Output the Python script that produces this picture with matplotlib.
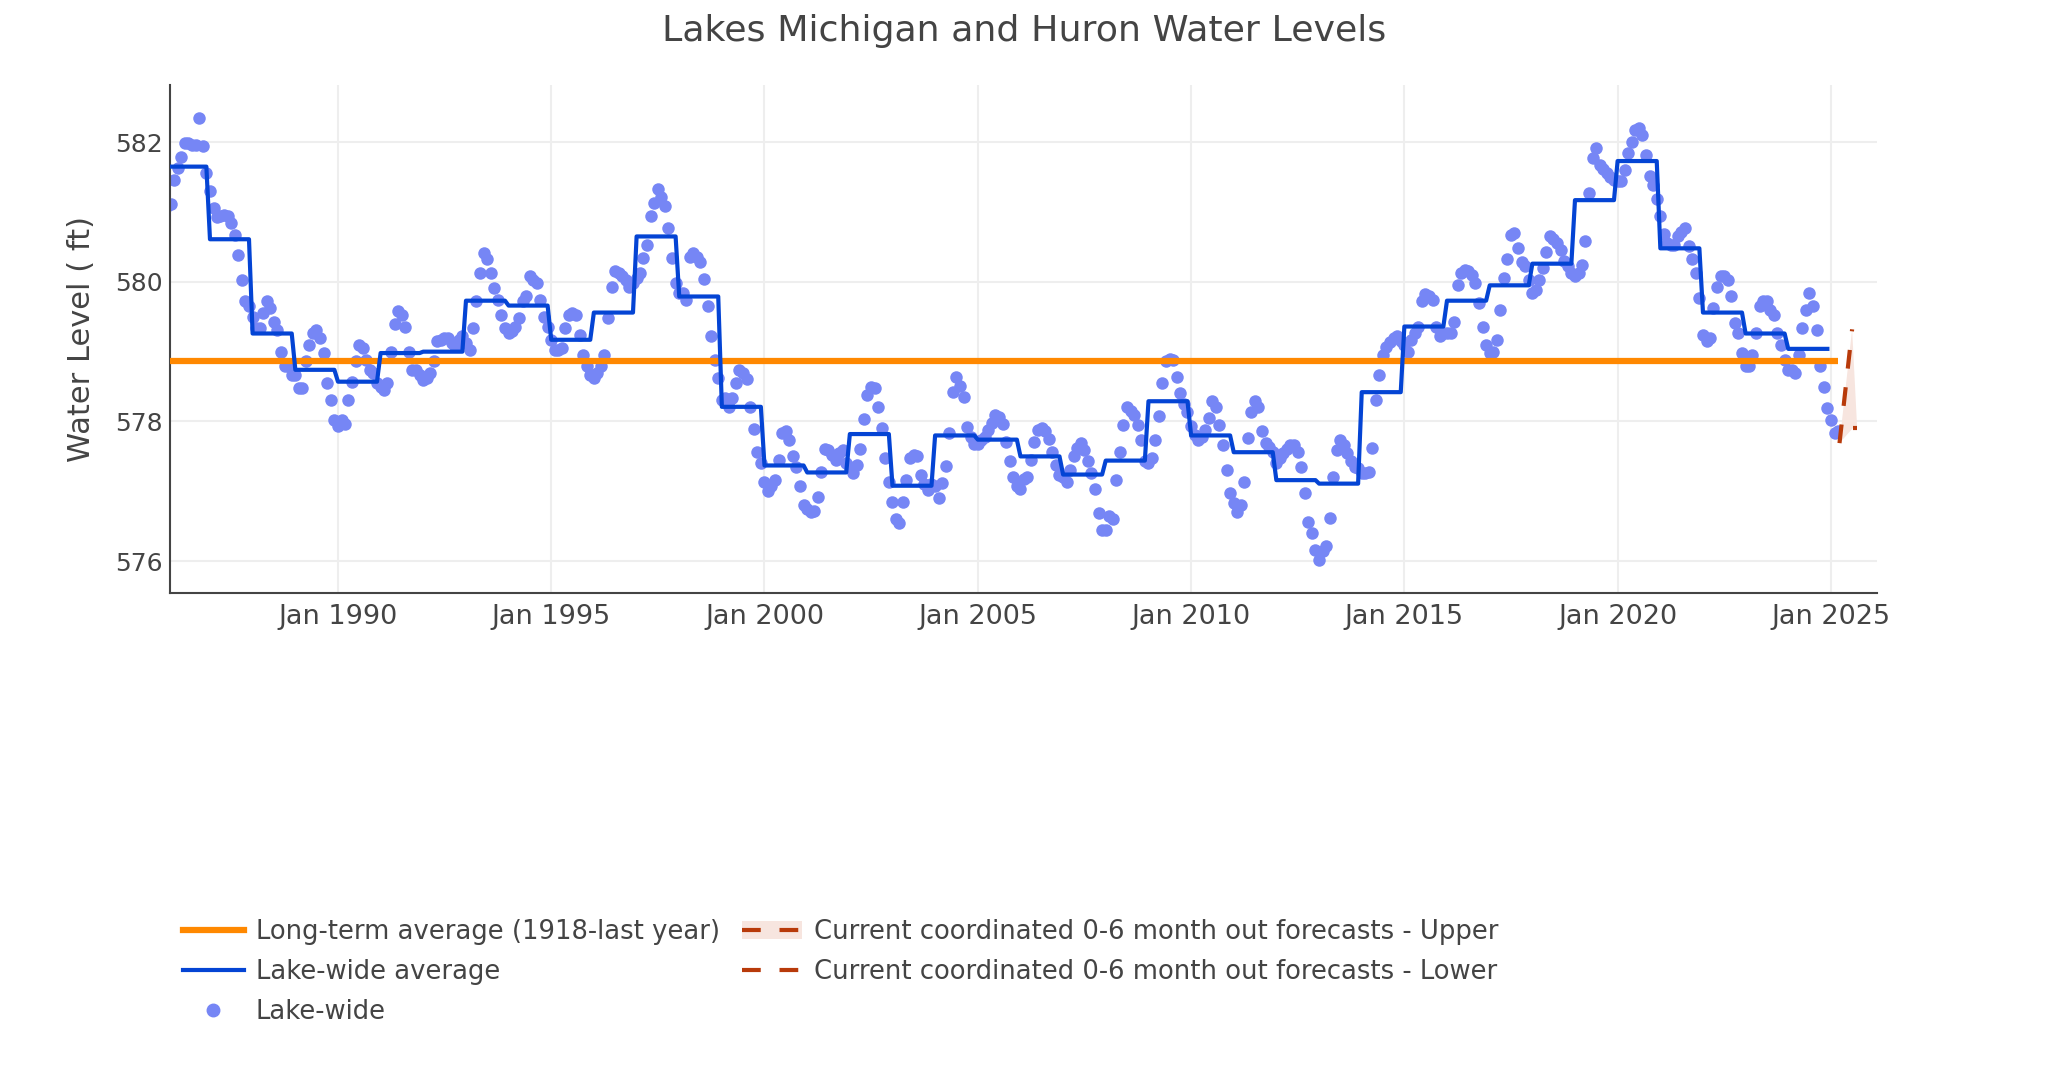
import pandas as pd
import matplotlib
matplotlib.use("Agg")
import matplotlib.pyplot as plt
import matplotlib.dates as mdates
from matplotlib.lines import Line2D
from matplotlib.patches import Patch

# Monthly lake-wide levels (ft), one row per year, starting Jan 1986
levels_1980s = [
    581.08, 581.12, 581.46, 581.63, 581.79, 581.99, 581.99, 581.96, 581.96, 582.35, 581.95, 581.56,  # 1986
    581.30, 581.06, 580.93, 580.94, 580.96, 580.94, 580.84, 580.67, 580.38, 580.02, 579.72, 579.65,  # 1987
    579.50, 579.34, 579.34, 579.55, 579.72, 579.62, 579.42, 579.31, 579.00, 578.80, 578.80, 578.67,  # 1988
    578.67, 578.48, 578.48, 578.86, 579.10, 579.27, 579.31, 579.19, 578.98, 578.55, 578.31, 578.02,  # 1989
]
levels_1990s = [
    577.93, 578.02, 577.97, 578.31, 578.57, 578.86, 579.10, 579.05, 578.88, 578.74, 578.69, 578.55,  # 1990
    578.50, 578.45, 578.55, 579.00, 579.40, 579.58, 579.53, 579.36, 579.00, 578.74, 578.74, 578.66,  # 1991
    578.60, 578.62, 578.70, 578.86, 579.15, 579.17, 579.19, 579.19, 579.12, 579.08, 579.17, 579.22,  # 1992
    579.12, 579.02, 579.34, 579.72, 580.12, 580.41, 580.32, 580.12, 579.91, 579.74, 579.53, 579.34,  # 1993
    579.27, 579.30, 579.36, 579.48, 579.72, 579.79, 580.08, 580.03, 579.98, 579.74, 579.50, 579.36,  # 1994
    579.17, 579.02, 579.02, 579.05, 579.34, 579.53, 579.55, 579.53, 579.24, 578.95, 578.79, 578.67,  # 1995
    578.62, 578.69, 578.79, 578.95, 579.48, 579.92, 580.15, 580.13, 580.08, 580.03, 579.93, 579.98,  # 1996
    580.05, 580.13, 580.34, 580.53, 580.94, 581.13, 581.33, 581.22, 581.09, 580.77, 580.34, 579.98,  # 1997
    579.84, 579.84, 579.74, 580.36, 580.41, 580.36, 580.29, 580.04, 579.65, 579.23, 578.88, 578.62,  # 1998
    578.31, 578.33, 578.21, 578.33, 578.55, 578.74, 578.70, 578.61, 578.21, 577.89, 577.57, 577.40,  # 1999
]
levels_2000s = [
    577.14, 577.00, 577.07, 577.16, 577.45, 577.83, 577.86, 577.74, 577.50, 577.35, 577.08, 576.80,  # 2000
    576.75, 576.70, 576.72, 576.92, 577.28, 577.61, 577.59, 577.52, 577.45, 577.55, 577.59, 577.40,  # 2001
    577.35, 577.26, 577.37, 577.61, 578.04, 578.38, 578.50, 578.48, 578.21, 577.90, 577.47, 577.14,  # 2002
    576.84, 576.61, 576.55, 576.84, 577.16, 577.47, 577.52, 577.50, 577.23, 577.10, 577.02, 577.10,  # 2003
    577.07, 576.90, 577.12, 577.36, 577.83, 578.42, 578.64, 578.51, 578.35, 577.92, 577.78, 577.68,  # 2004
    577.68, 577.74, 577.78, 577.88, 577.98, 578.09, 578.07, 577.97, 577.71, 577.43, 577.21, 577.07,  # 2005
    577.03, 577.18, 577.21, 577.45, 577.71, 577.88, 577.90, 577.86, 577.75, 577.57, 577.38, 577.24,  # 2006
    577.21, 577.14, 577.30, 577.50, 577.62, 577.69, 577.59, 577.43, 577.26, 577.03, 576.69, 576.45,  # 2007
    576.45, 576.65, 576.60, 577.16, 577.57, 577.95, 578.21, 578.15, 578.09, 577.95, 577.74, 577.43,  # 2008
    577.40, 577.47, 577.74, 578.08, 578.55, 578.86, 578.90, 578.88, 578.64, 578.41, 578.25, 578.14,  # 2009
]
levels_2010s = [
    577.93, 577.80, 577.74, 577.78, 577.88, 578.05, 578.29, 578.21, 577.95, 577.67, 577.31, 576.98,  # 2010
    576.83, 576.71, 576.81, 577.14, 577.76, 578.14, 578.29, 578.21, 577.86, 577.69, 577.64, 577.57,  # 2011
    577.40, 577.47, 577.55, 577.60, 577.66, 577.66, 577.57, 577.35, 576.97, 576.56, 576.40, 576.16,  # 2012
    576.02, 576.14, 576.21, 576.62, 577.21, 577.59, 577.74, 577.67, 577.55, 577.43, 577.35, 577.33,  # 2013
    577.26, 577.26, 577.28, 577.62, 578.31, 578.67, 578.95, 579.07, 579.14, 579.19, 579.22, 579.15,  # 2014
    579.10, 578.99, 579.17, 579.27, 579.36, 579.72, 579.82, 579.80, 579.74, 579.36, 579.22, 579.27,  # 2015
    579.27, 579.27, 579.43, 579.96, 580.13, 580.17, 580.15, 580.10, 579.98, 579.70, 579.36, 579.10,  # 2016
    578.98, 579.00, 579.17, 579.60, 580.05, 580.32, 580.67, 580.70, 580.48, 580.29, 580.22, 580.03,  # 2017
    579.84, 579.89, 580.03, 580.20, 580.43, 580.65, 580.62, 580.56, 580.45, 580.30, 580.22, 580.13,  # 2018
    580.08, 580.13, 580.24, 580.58, 581.27, 581.77, 581.92, 581.68, 581.62, 581.56, 581.50, 581.46,  # 2019
]
levels_2020s = [
    581.44, 581.44, 581.60, 581.85, 582.00, 582.18, 582.20, 582.10, 581.82, 581.51, 581.39, 581.18,  # 2020
    580.94, 580.68, 580.56, 580.53, 580.53, 580.65, 580.72, 580.77, 580.51, 580.32, 580.13, 579.77,  # 2021
    579.24, 579.15, 579.20, 579.62, 579.93, 580.08, 580.08, 580.03, 579.79, 579.41, 579.27, 578.98,  # 2022
    578.79, 578.79, 578.95, 579.27, 579.65, 579.72, 579.72, 579.60, 579.53, 579.27, 579.10, 578.88,  # 2023
    578.74, 578.74, 578.69, 578.95, 579.34, 579.60, 579.84, 579.65, 579.31, 578.79, 578.50, 578.19,  # 2024
    578.02, 577.83, 577.86,                                                                          # 2025
]

# Annual lake-wide averages
avg_years = list(range(1986, 2025))
annual_avg = [
    581.65, 580.61, 579.26, 578.74, 578.57, 578.98, 579.00, 579.73, 579.66, 579.17,
    579.56, 580.65, 579.79, 578.21, 577.37, 577.27, 577.82, 577.08, 577.80, 577.74,
    577.50, 577.24, 577.44, 578.29, 577.80, 577.56, 577.16, 577.11, 578.42, 579.36,
    579.73, 579.95, 580.26, 581.17, 581.73, 580.48, 579.56, 579.26, 579.04,
]

long_term_avg = 578.87
long_term_dates = ["1986-01-01", "2025-03-01"]

# 0-6 month forecasts
upper_dates = ["2025-03-15", "2025-07-01"]
upper_vals = [577.69, 579.32]
lower_dates = ["2025-07-10", "2025-08-13"]
lower_vals = [577.91, 577.91]

# colours
text_col = "#444444"
orange = "#FF8800"
blue = "#0444D4"
dot_col = "#7686F5"
fc_col = "#B83A0A"
fill_col = "#F7E5DF"

monthly = levels_1980s + levels_1990s + levels_2000s + levels_2010s + levels_2020s
months = pd.date_range("1986-01-01", periods=len(monthly), freq="MS")

# each annual average drawn from Jan to Dec of its year
step_x, step_y = [], []
for yr, v in zip(avg_years, annual_avg):
    step_x += [pd.Timestamp(f"{yr}-01-01"), pd.Timestamp(f"{yr}-12-01")]
    step_y += [v, v]

fig = plt.figure(figsize=(20.48, 10.67), dpi=100)
ax = fig.add_axes([0.0828, 0.444, 0.8337, 0.4764])

ax.scatter(months, monthly, s=81, color=dot_col, linewidths=0, zorder=2)
ax.plot(pd.to_datetime(long_term_dates), [long_term_avg, long_term_avg],
        color=orange, lw=4.5, solid_capstyle="butt", zorder=3)
ax.plot(step_x, step_y, color=blue, lw=3, zorder=4)

poly_x = list(mdates.date2num(pd.to_datetime(upper_dates))) + \
    list(mdates.date2num(pd.to_datetime(lower_dates[::-1])))
poly_y = upper_vals + lower_vals[::-1]
ax.fill(poly_x, poly_y, color=fill_col, lw=0, zorder=4)
ax.plot(pd.to_datetime(upper_dates), upper_vals, color=fc_col, lw=3,
        ls=(0, (4.5, 4.5)), zorder=5)
ax.plot(pd.to_datetime(lower_dates), lower_vals, color=fc_col, lw=3,
        ls=(0, (4.5, 4.5)), zorder=5)

ax.set_xlim(pd.Timestamp("1986-01-20"), pd.Timestamp("2026-01-30"))
ax.set_ylim(575.54, 582.82)
ax.set_yticks([576, 578, 580, 582])
ax.xaxis.set_major_locator(mdates.YearLocator(5))
ax.xaxis.set_major_formatter(mdates.DateFormatter("%b %Y"))

ax.grid(True, color="#eeeeee", lw=1.5)
ax.set_axisbelow(True)
for s in ["top", "right"]:
    ax.spines[s].set_visible(False)
for s in ["left", "bottom"]:
    ax.spines[s].set_color(text_col)
    ax.spines[s].set_linewidth(1.5)
ax.tick_params(axis="both", length=0, labelcolor=text_col)
ax.tick_params(axis="x", pad=8, labelsize=19.5)
ax.tick_params(axis="y", pad=5, labelsize=18)

fig.text(0.5, 0.9707, "Lakes Michigan and Huron Water Levels", ha="center",
         va="center", fontsize=26.2, color=text_col)
fig.text(0.0396, 0.6823, "Water Level ( ft)", rotation=90, ha="center",
         va="center", fontsize=22, color=text_col)

handles = [
    Line2D([], [], color=orange, lw=4.5),
    Line2D([], [], color=blue, lw=3),
    Line2D([], [], color=dot_col, marker="o", ls="none", markersize=9),
    (Patch(facecolor=fill_col, edgecolor="none"),
     Line2D([], [], color=fc_col, lw=3, ls=(0, (4.5, 4.5)))),
    Line2D([], [], color=fc_col, lw=3, ls=(0, (4.5, 4.5))),
]
labels = [
    "Long-term average (1918-last year)",
    "Lake-wide average",
    "Lake-wide",
    "Current coordinated 0-6 month out forecasts - Upper",
    "Current coordinated 0-6 month out forecasts - Lower",
]
fig.legend(handles, labels, ncol=2, loc="upper left",
           bbox_to_anchor=(0.0894, 0.1385), frameon=False, fontsize=18.6,
           handlelength=2.35, handletextpad=0.46, columnspacing=0.85,
           labelspacing=0.53, borderpad=0, borderaxespad=0, labelcolor=text_col)

fig.savefig("out.png", dpi=100)
